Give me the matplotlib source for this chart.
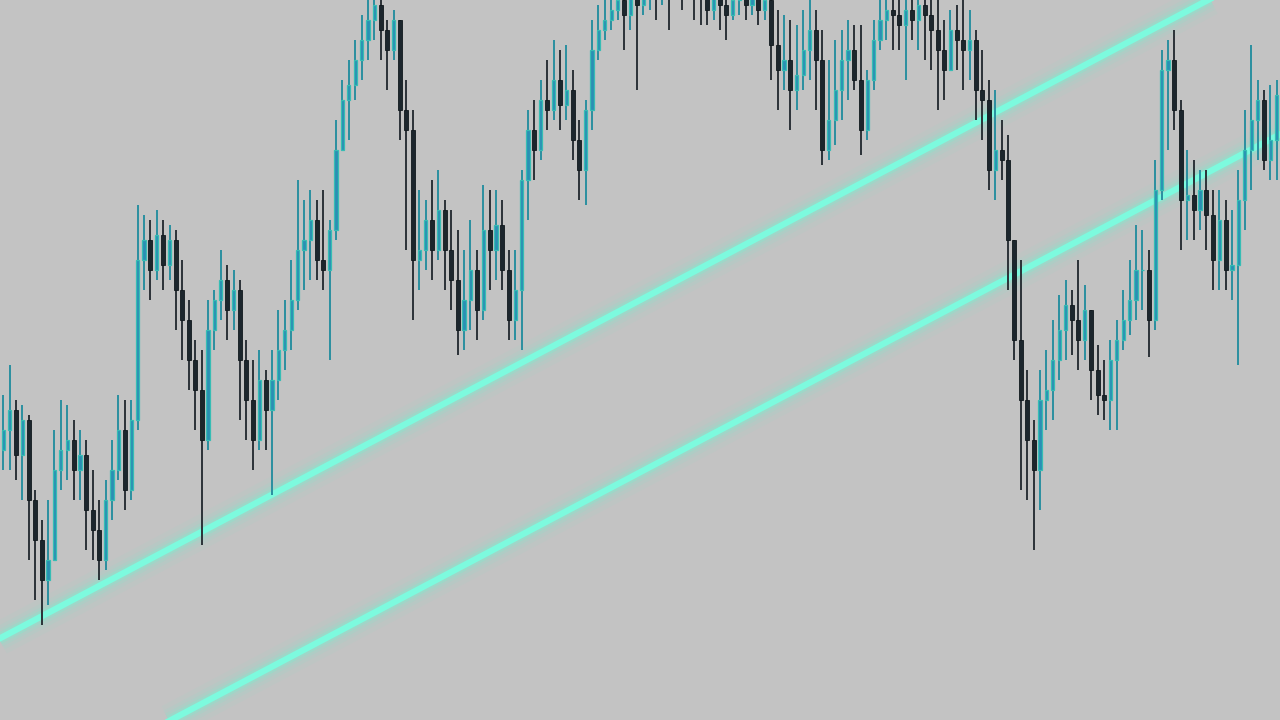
"""
Candlestick chart with two glowing parallel trend lines
"""
import matplotlib
matplotlib.use("Agg")
from matplotlib.pyplot import subplots
from numpy import array, arange, maximum, minimum

# closes, highs and lows for each candle (open = previous close)
first_open = 270
closes = [
    290, 310, 265, 300, 220, 180, 140, 160, 250, 270,
    280, 250, 265, 210, 190, 160, 220, 250, 290, 230,
    300, 460, 480, 450, 485, 455, 480, 430, 400, 360,
    330, 280, 390, 420, 440, 410, 430, 360, 320, 280,
    340, 310, 340, 370, 390, 420, 470, 480, 500, 460,
    450, 490, 570, 620, 635, 660, 680, 700, 715, 690,
    670, 700, 610, 590, 460, 470, 500, 470, 510, 470,
    440, 390, 420, 450, 410, 490, 470, 495, 450, 400,
    430, 540, 590, 570, 620, 610, 640, 615, 630, 580,
    550, 610, 670, 690, 700, 710, 720, 705, 725, 715,
    730, 740, 725, 750, 735, 760, 740, 750, 730, 725,
    710, 725, 715, 705, 720, 730, 715, 725, 710, 720,
    675, 650, 660, 630, 645, 670, 690, 660, 570, 600,
    630, 660, 670, 640, 590, 640, 680, 700, 710, 705,
    695, 710, 700, 715, 705, 690, 670, 650, 690, 680,
    670, 680, 630, 620, 550, 570, 560, 480, 380, 320,
    280, 250, 320, 330, 360, 390, 415, 400, 380, 410,
    350, 325, 320, 360, 380, 400, 420, 450, 450, 400,
    530, 650, 660, 610, 520, 525, 510, 530, 505, 460,
    500, 450, 455, 520, 570, 600, 620, 560, 580, 625,
]
highs = [
    325, 355, 320, 315, 305, 230, 200, 220, 290, 320,
    315, 300, 290, 280, 250, 220, 240, 280, 325, 320,
    320, 515, 505, 500, 510, 500, 495, 490, 460, 420,
    380, 370, 420, 430, 470, 455, 450, 440, 380, 360,
    370, 350, 370, 410, 420, 460, 540, 520, 530, 520,
    530, 500, 600, 640, 660, 680, 705, 730, 740, 720,
    700, 710, 690, 640, 610, 530, 520, 540, 550, 520,
    510, 490, 470, 500, 470, 535, 530, 530, 520, 470,
    470, 550, 610, 620, 640, 660, 680, 670, 675, 650,
    600, 620, 700, 715, 730, 735, 740, 730, 745, 740,
    760, 770, 760, 780, 770, 790, 780, 780, 760, 750,
    740, 750, 740, 735, 750, 755, 740, 750, 735, 745,
    720, 710, 705, 700, 695, 710, 720, 710, 690, 660,
    680, 690, 700, 695, 695, 650, 700, 720, 730, 725,
    730, 740, 735, 750, 740, 730, 720, 700, 710, 715,
    720, 710, 690, 670, 640, 630, 600, 585, 480, 460,
    350, 300, 350, 370, 400, 425, 440, 430, 460, 435,
    400, 375, 360, 380, 400, 430, 460, 495, 490, 470,
    560, 670, 680, 690, 620, 570, 560, 550, 550, 530,
    530, 520, 510, 550, 610, 675, 640, 630, 635, 640,
]
lows = [
    250, 250, 240, 220, 160, 120, 95, 115, 160, 230,
    240, 220, 220, 170, 160, 140, 150, 200, 240, 210,
    220, 290, 430, 420, 440, 430, 440, 390, 360, 330,
    290, 175, 270, 370, 400, 380, 390, 300, 280, 250,
    270, 270, 225, 320, 350, 370, 410, 430, 440, 440,
    430, 360, 480, 570, 580, 620, 640, 660, 680, 660,
    630, 660, 580, 470, 400, 430, 450, 440, 460, 430,
    410, 365, 370, 390, 380, 400, 430, 440, 430, 380,
    380, 370, 500, 540, 560, 590, 600, 590, 600, 560,
    520, 515, 590, 660, 680, 690, 700, 670, 690, 630,
    705, 710, 700, 715, 690, 725, 710, 720, 700, 695,
    695, 700, 690, 680, 700, 705, 700, 705, 695, 700,
    640, 610, 630, 590, 610, 630, 640, 610, 555, 560,
    575, 600, 620, 630, 565, 580, 630, 670, 680, 670,
    670, 640, 680, 670, 660, 650, 610, 620, 660, 650,
    630, 640, 600, 580, 530, 520, 540, 430, 360, 230,
    220, 170, 210, 290, 300, 340, 360, 365, 350, 360,
    320, 305, 300, 290, 290, 370, 385, 400, 410, 363,
    390, 520, 570, 590, 470, 480, 480, 490, 470, 430,
    430, 430, 420, 355, 490, 530, 560, 550, 540, 540,
]

# trend lines as (candle index, price) anchor pairs
upper_line = ([-1, 200], [80, 82 + 3.38 * 200.5])
lower_line = ([-1, 200], [-92, -92 + 3.38 * 201])

BG = "#c3c3c3"
UP_BODY = "#2a8fb3"
UP_EDGE = "#36bdb4"
DOWN_BODY = "#1c262d"
GLOW = "#6ff5d2"


def draw_glow_line(axes, xs, ys):
    """glowing line: wide faint layers under a bright core"""
    for width, alpha in [(24, 0.05), (17, 0.08), (12, 0.12), (8, 0.25)]:
        axes.plot(xs, ys, color=GLOW, lw=width, alpha=alpha,
                  solid_capstyle="butt", zorder=1)
    axes.plot(xs, ys, color="#7dfade", lw=4.5, zorder=1)


def main():
    """
    main wrapper function
    """
    close = array(closes, dtype=float)
    opn = array([first_open] + closes[:-1], dtype=float)
    high = maximum(array(highs, dtype=float), maximum(opn, close))
    low = minimum(array(lows, dtype=float), minimum(opn, close))
    idx = arange(len(close))
    up = close >= opn

    fig, axes = subplots(figsize=(12.8, 7.2), dpi=100)
    fig.subplots_adjust(left=0, right=1, bottom=0, top=1)
    fig.patch.set_facecolor(BG)
    axes.set_facecolor(BG)

    draw_glow_line(axes, *upper_line)
    draw_glow_line(axes, *lower_line)

    # wicks
    axes.vlines(idx[up], low[up], high[up], color="#2a8fa0", lw=1.4, zorder=2)
    axes.vlines(idx[~up], low[~up], high[~up], color="#2b3238", lw=1.4,
                zorder=2)
    # bodies
    axes.bar(idx[up], (close - opn)[up], bottom=opn[up], width=0.5,
             color=UP_BODY, edgecolor=UP_EDGE, linewidth=0.9, zorder=3)
    axes.bar(idx[~up], (opn - close)[~up], bottom=close[~up], width=0.6,
             color=DOWN_BODY, edgecolor="#10181d", linewidth=0.6, zorder=3)

    axes.set_xlim(-0.5, len(close) - 0.5)
    axes.set_ylim(0, 720)
    axes.axis("off")
    fig.savefig("out.png", dpi=100, facecolor=BG)


if __name__ == "__main__":
    main()
